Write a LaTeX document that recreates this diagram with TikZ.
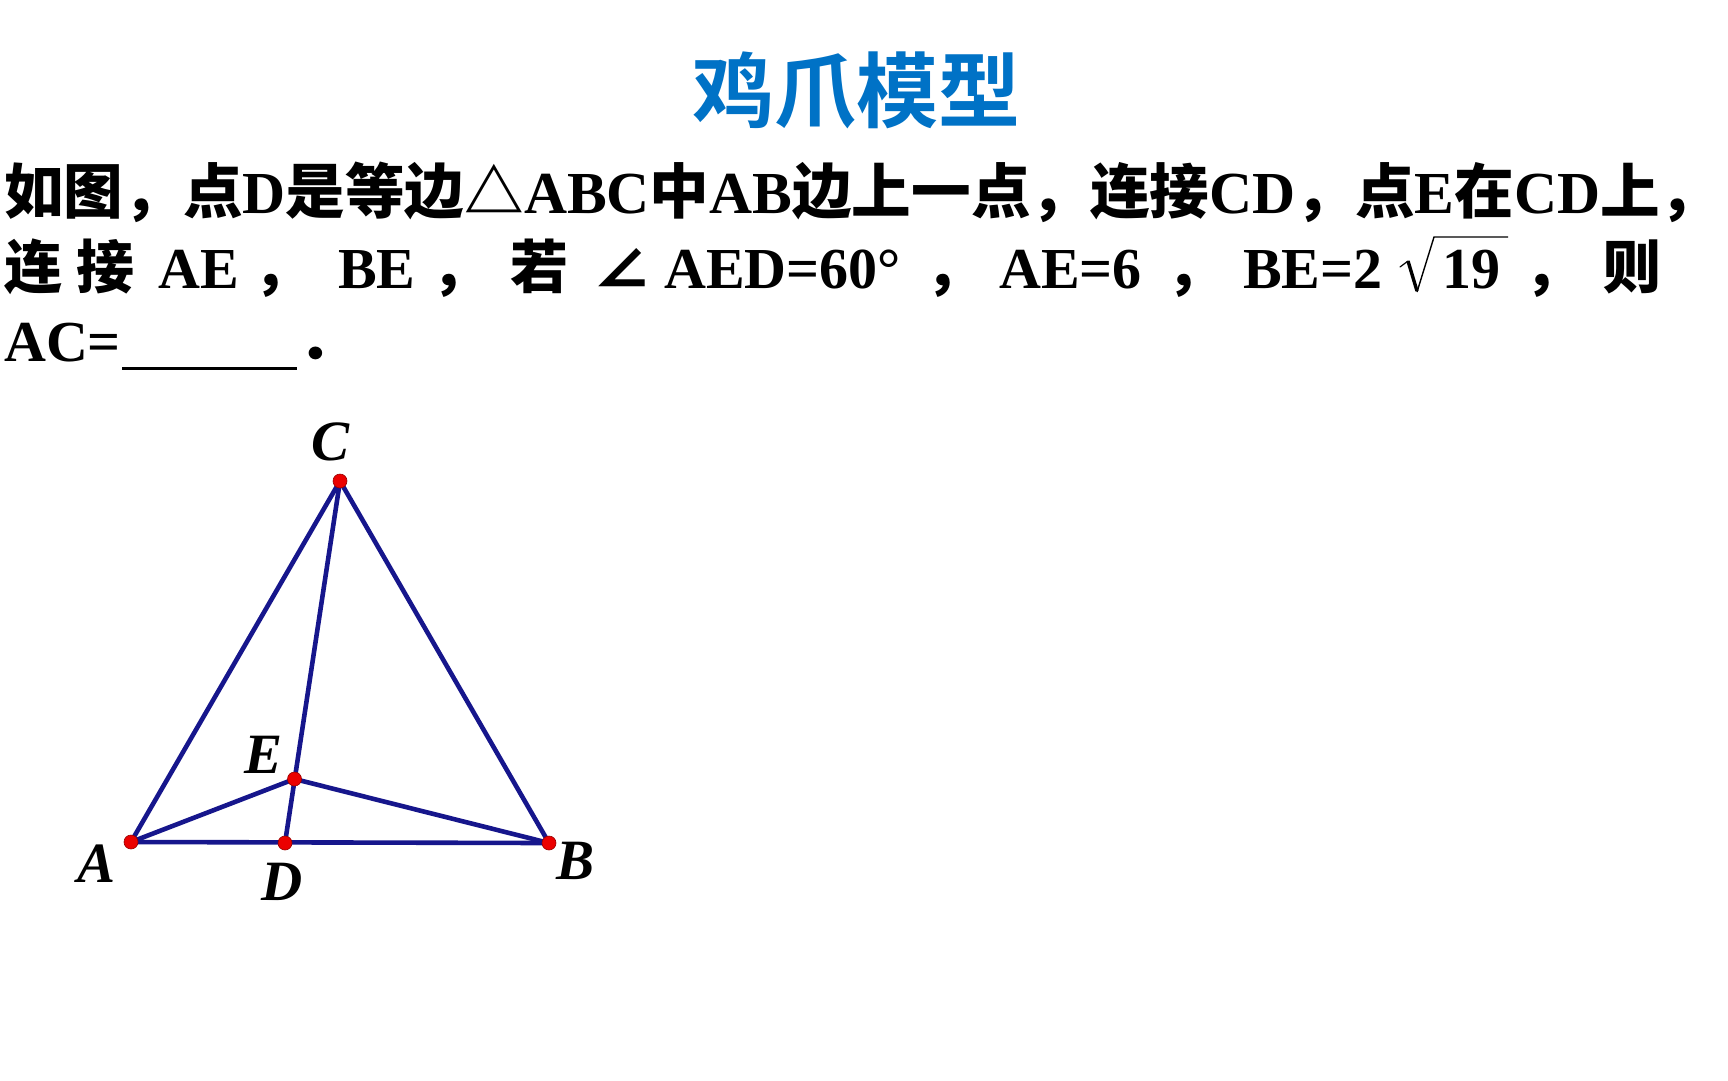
\documentclass[tikz,border=0pt]{standalone}
\usepackage{fontspec}
\setmainfont{Liberation Serif}
\newfontfamily\cjk{Noto Sans CJK SC}
\newfontfamily\cjkbold{Noto Sans CJK SC Bold}
\definecolor{titleblue}{RGB}{0,114,198}
\definecolor{edgeblue}{RGB}{22,22,140}
\definecolor{dotred}{RGB}{235,0,0}
\tikzset{
  body/.style={inner sep=0pt, anchor=base west, font=\fontsize{58}{70}\selectfont\bfseries},
  edge/.style={draw=edgeblue, line width=4.6pt, line cap=round, line join=round},
  pt/.style={circle, fill=dotred, draw=red!60!black, line width=0.6pt, minimum size=14pt, inner sep=0pt},
  lbl/.style={inner sep=0pt, font=\fontsize{57}{60}\selectfont\bfseries\itshape}
}
\newcommand{\cj}[1]{{\cjkbold #1}}
\begin{document}
\begin{tikzpicture}[x=1pt,y=-1pt]
\useasboundingbox (0,0) rectangle (1728,1080);
\fill[white] (0,0) rectangle (1728,1080);
% title
\node[inner sep=0pt, anchor=base, text=titleblue, font=\fontsize{82}{90}\selectfont\cjkbold] (title) at (856,121) {鸡爪模型};
% line 1
\node[body, font=\fontsize{59.6}{70}\selectfont\bfseries] (l1) at (4,213) {\cj{如图，点}D\cj{是等边}{\cjk △}ABC\cj{中}AB\cj{边上一点，连接}CD\cj{，点}E\cj{在}CD\cj{上，}};
% line 2
\node[body] (l2a) at (4,288) {\cj{连}};
\node[body] (l2b) at (76,288) {\cj{接}};
\node[body] (l2c) at (158,288) {AE};
\node[body] (l2d) at (253,288) {\cj{，}};
\node[body] (l2e) at (338,288) {BE};
\node[body] (l2f) at (431,288) {\cj{，}};
\node[body] (l2g) at (510,288) {\cj{若}};
\node[body] (l2h) at (593,288) {{\cjk ∠}};
\node[body] (l2i) at (664,288) {AED=60°};
\node[body] (l2j) at (925,288) {\cj{，}};
\node[body] (l2k) at (999,288) {AE=6};
\node[body] (l2l) at (1166,288) {\cj{，}};
\node[body] (l2m) at (1243,288) {BE=2};
\node[body] (l2n) at (1442,288) {19};
\draw[line width=1.2pt, line cap=round] (1400,267) -- (1408,261);
\draw[line width=3.4pt] (1408,261) -- (1417,291);
\draw[line width=1.4pt] (1417,292) -- (1434,237) -- (1508,237);
\node[body] (l2o) at (1524,288) {\cj{，}};
\node[body] (l2p) at (1603,288) {\cj{则}};
% line 3
\node[body] (l3a) at (4,361) {AC=};
\node[body] (l3b) at (298,361) {\cj{．}};
\draw[line width=3pt] (122,368) -- (297,368);
% triangle
\coordinate (A) at (131,842);
\coordinate (B) at (549,843);
\coordinate (C) at (340,481);
\coordinate (D) at (285,843);
\coordinate (E) at (294.5,779);
\draw[edge] (A) -- (B) -- (C) -- cycle;
\draw[edge] (C) -- (D);
\draw[edge] (A) -- (E) -- (B);
\foreach \p in {A,B,C,D,E} \node[pt] (dot\p) at (\p) {};
\node[lbl] (la) at (97,864) {A};
\node[lbl] (lb) at (576,861) {B};
\node[lbl] (lc) at (331,442) {C};
\node[lbl] (ld) at (282,882) {D};
\node[lbl] (le) at (264,755) {E};
\end{tikzpicture}
\end{document}
